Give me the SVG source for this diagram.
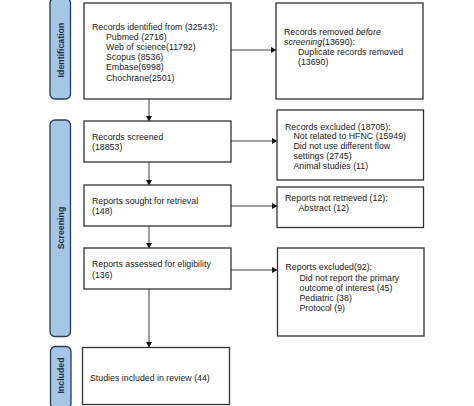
<svg xmlns="http://www.w3.org/2000/svg" width="474" height="406" viewBox="0 0 474 406">
<style>
.box{fill:#fff;stroke:#333;stroke-width:1.3}
.pill{fill:#a6c6e8;stroke:#2a3d55;stroke-width:1.3}
.pt{font-family:"Liberation Sans",Arial,sans-serif;font-size:8.8px;font-weight:bold;fill:#1c2b40;text-anchor:middle;dominant-baseline:central}
.t{font-family:"Liberation Sans",Arial,sans-serif;font-size:8.8px;fill:#222}
.c{stroke:#444;stroke-width:1;fill:none;marker-end:url(#ah)}
</style>
<defs>
<marker id="ah" markerWidth="6" markerHeight="6" refX="5" refY="3" orient="auto" markerUnits="userSpaceOnUse">
<path d="M0,0 L5.5,3 L0,6 z" fill="#111"/>
</marker>
</defs>
<rect width="474" height="406" fill="#fff"/>
<g id="phase-identification">
<rect class="pill" x="50" y="-2" width="20.5" height="101" rx="5"/>
<text class="pt" transform="translate(60.5,50) rotate(-90)">Identification</text>
</g>
<g id="phase-screening">
<rect class="pill" x="50" y="120" width="20.5" height="216.5" rx="5"/>
<text class="pt" transform="translate(60.5,228) rotate(-90)">Screening</text>
</g>
<g id="phase-included">
<rect class="pill" x="50.5" y="346.5" width="20.5" height="62" rx="5"/>
<text class="pt" transform="translate(61,375.5) rotate(-90)">Included</text>
</g>
<g id="connectors">
<line class="c" x1="149" y1="99" x2="149" y2="121"/>
<line class="c" x1="149" y1="162" x2="149" y2="185"/>
<line class="c" x1="149" y1="226" x2="149" y2="248"/>
<line class="c" x1="149" y1="289" x2="149" y2="347"/>
<line class="c" x1="231" y1="50" x2="276" y2="50"/>
<line class="c" x1="231" y1="141" x2="277" y2="141"/>
<line class="c" x1="231" y1="206" x2="277" y2="206"/>
<line class="c" x1="231" y1="270" x2="277" y2="270"/>
</g>
<g id="identified">
<rect class="box" x="84" y="3" width="147" height="96"/>
<text class="t" x="92" y="29.5">Records identified from (32543):</text>
<text class="t" x="106" y="39.7">Pubmed (2716)</text>
<text class="t" x="106" y="49.9">Web of science(11792)</text>
<text class="t" x="106" y="60.1">Scopus (8536)</text>
<text class="t" x="106" y="70.3">Embase(6998)</text>
<text class="t" x="106" y="80.5">Chochrane(2501)</text>
</g>
<g id="removed">
<rect class="box" x="276" y="3" width="147" height="96"/>
<text class="t" x="284" y="34.7">Records removed <tspan font-style="italic">before</tspan></text>
<text class="t" x="284" y="44.9"><tspan font-style="italic">screening</tspan>(13690):</text>
<text class="t" x="298" y="55.1">Duplicate records removed</text>
<text class="t" x="298" y="65.3">(13690)</text>
</g>
<g id="screened">
<rect class="box" x="84" y="121" width="147" height="41"/>
<text class="t" x="92" y="139.7">Records screened</text>
<text class="t" x="92" y="150.2">(18853)</text>
</g>
<g id="excluded-records">
<rect class="box" x="277" y="110" width="146.5" height="70"/>
<text class="t" x="285" y="129.7">Records excluded (18705):</text>
<text class="t" x="293.5" y="139">Not related to HFNC (15949)</text>
<text class="t" x="293.5" y="149">Did not use different flow</text>
<text class="t" x="293.5" y="159">settings (2745)</text>
<text class="t" x="293.5" y="169">Animal studies (11)</text>
</g>
<g id="sought">
<rect class="box" x="84" y="185" width="147" height="41"/>
<text class="t" x="92" y="204">Reports sought for retrieval</text>
<text class="t" x="92" y="214.3">(148)</text>
</g>
<g id="not-retrieved">
<rect class="box" x="277" y="187" width="146.5" height="40.5"/>
<text class="t" x="285" y="200.7">Reports not retrieved (12):</text>
<text class="t" x="298.5" y="211.3">Abstract (12)</text>
</g>
<g id="assessed">
<rect class="box" x="84" y="248" width="147" height="41"/>
<text class="t" x="92" y="267.3">Reports assessed for eligibility</text>
<text class="t" x="92" y="278">(136)</text>
</g>
<g id="excluded-reports">
<rect class="box" x="277.5" y="248" width="146.5" height="88"/>
<text class="t" x="285.5" y="270.3">Reports excluded(92):</text>
<text class="t" x="299.5" y="280.5">Did not report the primary</text>
<text class="t" x="299.5" y="290.7">outcome of interest (45)</text>
<text class="t" x="299.5" y="300.9">Pediatric (38)</text>
<text class="t" x="299.5" y="311.1">Protocol (9)</text>
</g>
<g id="included">
<rect class="box" x="82.5" y="347.5" width="147" height="57"/>
<text class="t" x="90" y="380.5">Studies included in review (44)</text>
</g>
</svg>
